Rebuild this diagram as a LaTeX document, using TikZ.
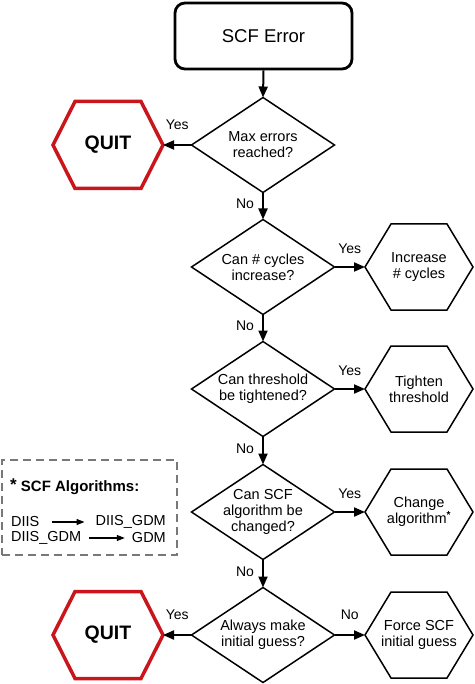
\documentclass[tikz,border=0pt]{standalone}
\usepackage{fontspec}
\setmainfont{Liberation Sans}
\usetikzlibrary{arrows.meta,calc}
\definecolor{quitred}{RGB}{200,22,28}
\definecolor{boxgray}{RGB}{120,120,120}
\newcommand\hexdraw[3]{%
  \draw[#1] (#2.west) -- ([xshift=#3]#2.north west) -- ([xshift=-#3]#2.north east)
    -- (#2.east) -- ([xshift=-#3]#2.south east) -- ([xshift=#3]#2.south west) -- cycle;}
\newcommand\diadraw[1]{%
  \draw[line width=1.5pt, line join=miter] (#1.west) -- (#1.north) -- (#1.east) -- (#1.south) -- cycle;}
\tikzset{
  decision/.style={rectangle, minimum width=143pt, minimum height=95pt, outer sep=0pt,
    inner sep=0pt, align=center, font=\fontsize{14.5}{16}\selectfont},
  hexnode/.style={rectangle, minimum width=108pt, minimum height=86pt, inner sep=0pt, outer sep=0pt,
    align=center, font=\fontsize{14.5}{16}\selectfont},
  quitnode/.style={rectangle, minimum width=110pt, minimum height=87pt, inner sep=0pt, outer sep=0pt,
    font=\fontsize{19.5}{22}\selectfont\bfseries},
  conn/.style={line width=2pt, -{Triangle[length=11pt,width=9pt]}},
  lbl/.style={font=\fontsize{14}{16}\selectfont, inner sep=0pt},
  algo/.style={font=\fontsize{14.5}{16}\selectfont, inner sep=0pt},
  thinarrow/.style={line width=1.2pt, -{Triangle[length=8pt,width=6pt]}},
}
\begin{document}
\begin{tikzpicture}[x=1pt,y=-1pt]
\useasboundingbox (0,0) rectangle (474,684);
% start
\node[draw, line width=2.8pt, rounded corners=10pt, minimum width=177pt, minimum height=66pt,
  font=\fontsize{18.5}{20}\selectfont] (start) at (263.5,36) {SCF Error};
% decisions
\node[decision] (d1) at (263,145) {Max errors\\reached?};
\diadraw{d1}
\node[decision] (d2) at (263,267) {Can \# cycles\\increase?};
\diadraw{d2}
\node[decision] (d3) at (263,389) {Can threshold\\be tightened?};
\diadraw{d3}
\node[decision] (d4) at (263,512) {Can SCF\\algorithm be\\changed?};
\diadraw{d4}
\node[decision] (d5) at (263,635) {Always make\\initial guess?};
\diadraw{d5}
% quit nodes
\node[quitnode] (q1) at (108,145) {QUIT};
\hexdraw{draw=quitred, line width=3.5pt, line join=miter}{q1}{22pt}
\node[quitnode] (q2) at (108,635) {QUIT};
\hexdraw{draw=quitred, line width=3.5pt, line join=miter}{q2}{22pt}
% action hexagons
\node[hexnode] (h2) at (419,267) {Increase\\\# cycles};
\hexdraw{draw, line width=1.5pt}{h2}{26pt}
\node[hexnode] (h3) at (419,389) {Tighten\\threshold};
\hexdraw{draw, line width=1.5pt}{h3}{26pt}
\node[hexnode] (h4) at (419,512) {Change\\algorithm\textsuperscript{\bfseries *}};
\hexdraw{draw, line width=1.5pt}{h4}{26pt}
\node[hexnode] (h5) at (419,635) {Force SCF\\initial guess};
\hexdraw{draw, line width=1.5pt}{h5}{26pt}
% connectors
\draw[conn] (start.south) -- (d1.north);
\draw[conn] (d1.west) -- node[lbl, above=14pt] {Yes} (q1.east);
\draw[conn] (d1.south) -- node[lbl, left=8pt, yshift=2pt] {No} (d2.north);
\draw[conn] (d2.east) -- node[lbl, above=12pt] {Yes} (h2.west);
\draw[conn] (d2.south) -- node[lbl, left=8pt, yshift=2pt] {No} (d3.north);
\draw[conn] (d3.east) -- node[lbl, above=12pt] {Yes} (h3.west);
\draw[conn] (d3.south) -- node[lbl, left=8pt, yshift=2pt] {No} (d4.north);
\draw[conn] (d4.east) -- node[lbl, above=12pt] {Yes} (h4.west);
\draw[conn] (d4.south) -- node[lbl, left=8pt, yshift=2pt] {No} (d5.north);
\draw[conn] (d5.west) -- node[lbl, above=14pt] {Yes} (q2.east);
\draw[conn] (d5.east) -- node[lbl, above=14pt] {No} (h5.west);
% legend box
\node[draw=boxgray, line width=2pt, dash pattern=on 8pt off 5pt, minimum width=175pt, minimum height=95pt,
  inner sep=0pt] (legend) at (89.5,507.5) {};
\node[anchor=west, inner sep=0pt, font=\fontsize{15}{17}\selectfont\bfseries] (ltitle) at (10,487)
  {\raisebox{1pt}{\fontsize{17}{17}\selectfont *} SCF Algorithms:};
\node[algo, anchor=west] (a1) at (11,522) {DIIS};
\node[algo, anchor=east] (b1) at (166,522) {DIIS\_GDM};
\node[algo, anchor=west] (a2) at (11,538) {DIIS\_GDM};
\node[algo, anchor=east] (b2) at (166,538) {GDM};
\draw[thinarrow, shorten <=12pt, shorten >=11pt] (a1.east) -- (b1.west);
\draw[thinarrow, shorten <=8pt, shorten >=7pt] (a2.east) -- (b2.west);
\end{tikzpicture}
\end{document}
